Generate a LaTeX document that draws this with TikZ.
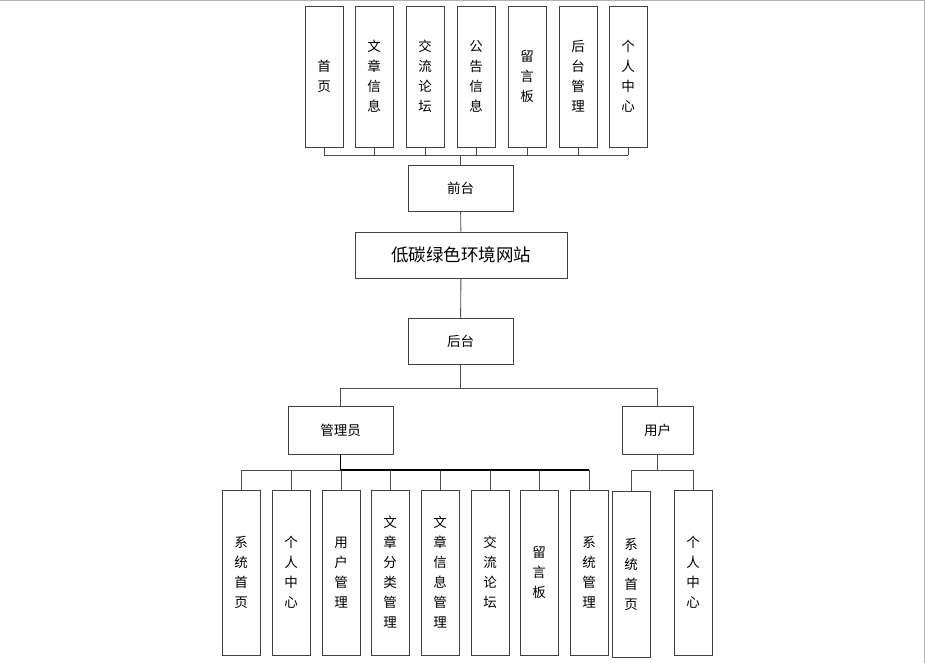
\documentclass[tikz,border=0pt]{standalone}
\usepackage{fontspec}
\setmainfont{Noto Sans CJK SC}
\begin{document}
\begin{tikzpicture}[x=1pt,y=-1pt,
 bx/.style={draw=black!75,line width=0.9pt,fill=white,inner sep=0pt,font=\fontsize{13.5pt}{20pt}\selectfont,align=center},
 ln/.style={draw=black!70,line width=0.9pt}]
\useasboundingbox (0,0) rectangle (925,663);
\draw[black!30] (0,0.5)--(925,0.5) (924.5,0)--(924.5,663);
% top row
\foreach \n/\x/\t in {t1/324/首\\页, t2/374/文\\章\\信\\息, t3/425/交\\流\\论\\坛, t4/476/公\\告\\信\\息, t5/527/留\\言\\板, t6/578/后\\台\\管\\理, t7/628/个\\人\\中\\心}
  \node[bx,minimum width=38,minimum height=141] (\n) at (\x,76.5) {\t};
\node[bx,minimum width=105,minimum height=46] (qt) at (460.5,188) {前台};
\node[bx,minimum width=212,minimum height=46,font=\fontsize{17.5pt}{20pt}\selectfont] (main) at (461,255) {低碳绿色环境网站};
\node[bx,minimum width=105,minimum height=46] (ht) at (460.5,341) {后台};
\node[bx,minimum width=105,minimum height=48] (adm) at (340.5,430) {管理员};
\node[bx,minimum width=71,minimum height=48] (usr) at (657.5,430) {用户};
\foreach \n in {t1,t2,t3,t4,t5,t6,t7} \draw[ln] (\n.south) -- (\n.south |- 0,155);
\draw[ln] (t1.south |- 0,155) -- (t7.south |- 0,155);
\draw[ln] (qt.north) -- (qt.north |- 0,155);
\draw[ln] (qt) -- (main);
\draw[ln] (main) -- (ht);
\draw[ln] (ht.south) -- (460.5,388);
\draw[ln] (adm.north) |- (usr.north |- 0,388) -- (usr.north);
% admin children
\foreach \n/\x/\t in {a1/241/系\\统\\首\\页, a2/291/个\\人\\中\\心, a3/341/用\\户\\管\\理, a4/390/文\\章\\分\\类\\管\\理, a5/440/文\\章\\信\\息\\管\\理, a6/490/交\\流\\论\\坛, a7/539/留\\言\\板, a8/589/系\\统\\管\\理}
  {\node[bx,minimum width=38,minimum height=165] (\n) at (\x,572.5) {\t};
   \draw[ln] (\n.north) -- (\n.north |- 0,470);}
\draw[ln] (a1.north |- 0,470) -- (a8.north |- 0,470);
\draw[black,line width=1.6pt] (adm.south) -- (adm.south |- 0,470) -- (a8.north |- 0,470);
\node[bx,minimum width=38,minimum height=166] (u1) at (631,574) {系\\统\\首\\页};
\node[bx,minimum width=38,minimum height=165] (u2) at (693,572.5) {个\\人\\中\\心};
\draw[ln] (usr.south) -- (usr.south |- 0,470);
\draw[ln] (u1.north) |- (u2.north |- 0,470) -- (u2.north);
\end{tikzpicture}
\end{document}
